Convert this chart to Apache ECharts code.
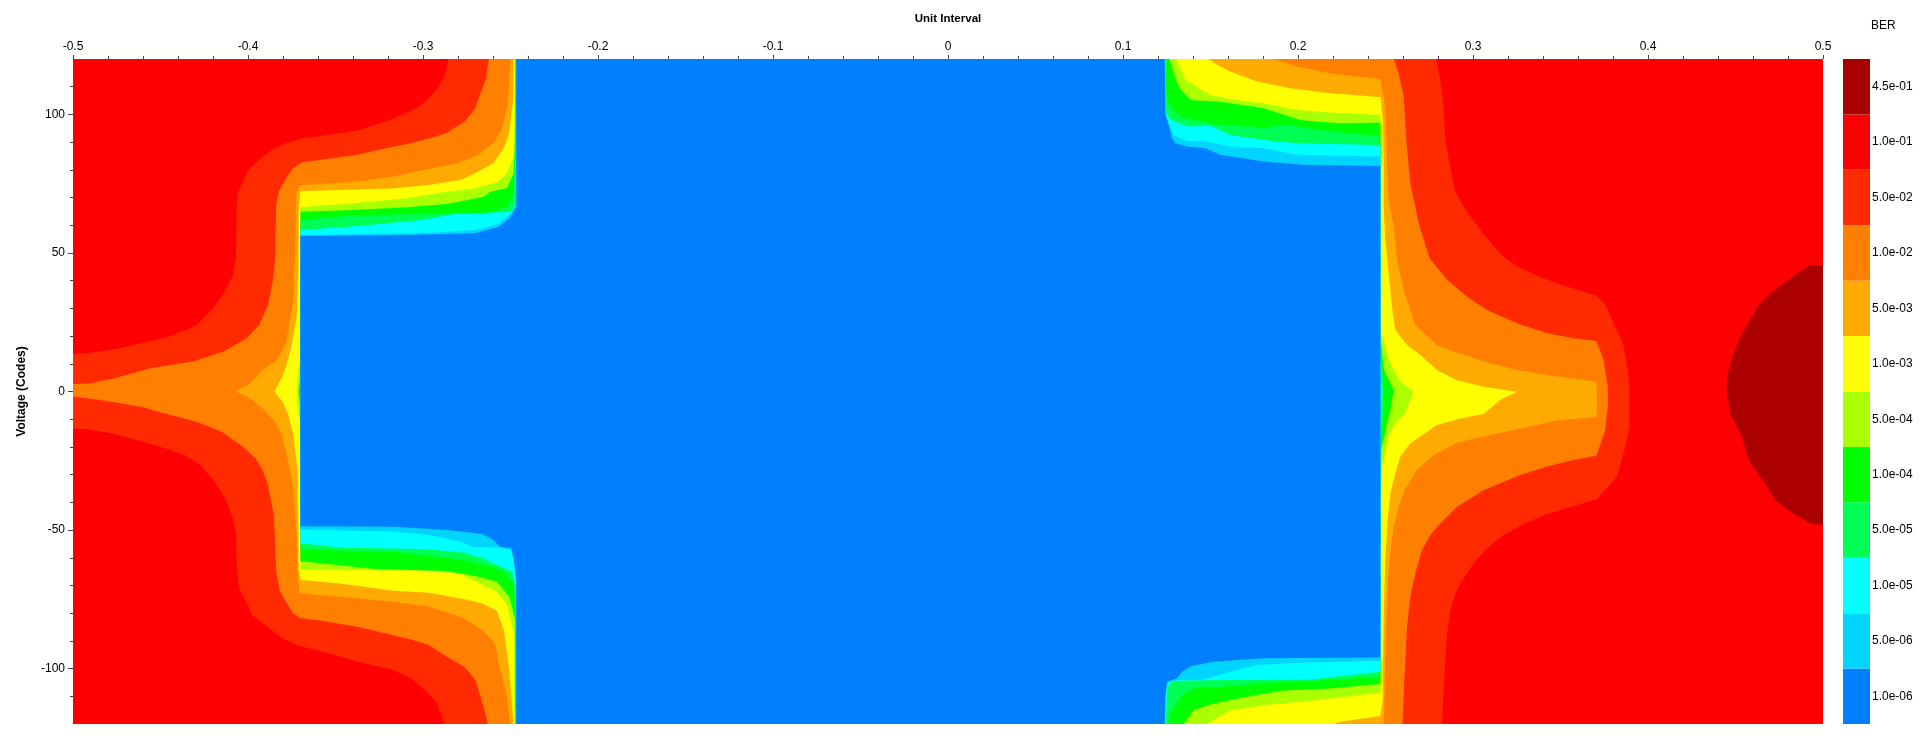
<!DOCTYPE html>
<html>
<head>
<meta charset="utf-8">
<title>BER contour</title>
<script src="https://cdn.jsdelivr.net/npm/echarts@6/dist/echarts.min.js"></script>
<style>html,body{margin:0;padding:0;background:#fff}#chart{width:1926px;height:738px}</style>
</head>
<body>
<div id="chart"></div>
<script>
// Axis values
const xRange = [-0.5, 0.5];
const yRange = [-120, 120];
const yLabelTicks = [-100, -50, 0, 50, 100];
const yMinorTicks = [-110, -90, -80, -70, -60, -40, -30, -20, -10, 10, 20, 30, 40, 60, 70, 80, 90, 110];
// Legend (bottom to top)
const berLabels = ['1.0e-06','5.0e-06','1.0e-05','5.0e-05','1.0e-04','5.0e-04','1.0e-03','5.0e-03','1.0e-02','5.0e-02','1.0e-01','4.5e-01'];
const berColors = ['#0080ff','#00d5ff','#00ffff','#00ff55','#00ff00','#aaff00','#ffff00','#ffaa00','#ff8000','#ff2a00','#ff0000','#aa0000'];

// Contour traces, [unit interval, voltage code]
const peak45 = [[0.5,45.6],[0.4928,45.6],[0.4851,42.6],[0.4775,39],[0.4699,35.4],[0.4632,31.2],[0.4585,25.8],[0.4528,19.8],[0.4489,13.7],[0.4461,7.7],[0.4448,0.5],[0.447,-7.9],[0.4537,-16.3],[0.4575,-24.7],[0.4661,-32.6],[0.4728,-39.2],[0.4813,-43.4],[0.4928,-47.6],[0.5,-48.2]];

const left5e2 = [[-0.2854,120],[-0.2875,114.3],[-0.2916,109.4],[-0.2977,105.2],[-0.3038,102.2],[-0.315,99],[-0.3252,96.6],[-0.3375,94.2],[-0.3538,92.6],[-0.3691,91.4],[-0.3783,89.6],[-0.3854,87.5],[-0.3916,84.8],[-0.3997,80],[-0.4028,75.8],[-0.4058,71.5],[-0.4064,66.7],[-0.4069,48.7],[-0.4089,41.5],[-0.414,35.4],[-0.4201,30],[-0.4293,24],[-0.4354,22.2],[-0.4456,19.8],[-0.4599,17.6],[-0.4783,15],[-0.4926,13.8],[-0.5,13.5],[-0.5,-13.5],[-0.4926,-13.5],[-0.4783,-15.1],[-0.4599,-18.1],[-0.4456,-20.8],[-0.4354,-23.3],[-0.4273,-26.5],[-0.4191,-32.6],[-0.413,-38.6],[-0.4089,-45.2],[-0.4069,-51.2],[-0.4064,-63.2],[-0.4048,-71.7],[-0.4007,-76.5],[-0.3977,-80.7],[-0.3926,-83.1],[-0.3803,-89.1],[-0.3701,-91.9],[-0.3538,-94.5],[-0.3375,-97.5],[-0.3171,-100.5],[-0.3069,-103.6],[-0.2987,-107.8],[-0.2926,-112],[-0.2895,-116.8],[-0.2875,-120]];
const right5e2 = [[0.2789,120],[0.2813,112.5],[0.2832,102.8],[0.2842,90.8],[0.288,77.6],[0.2899,72.1],[0.2966,64.9],[0.3042,58.3],[0.3118,52.3],[0.3185,48.1],[0.3271,44.5],[0.3385,41.2],[0.3537,37.9],[0.3709,34.5],[0.3756,31.2],[0.3804,24.6],[0.3857,17.4],[0.3884,7.8],[0.3895,0],[0.3895,-12.7],[0.387,-19.9],[0.3823,-30.7],[0.3709,-38.9],[0.3575,-41.3],[0.3423,-44.2],[0.329,-47.8],[0.3175,-51.8],[0.308,-56.6],[0.3004,-62],[0.2928,-69.3],[0.2899,-72.9],[0.2871,-78.9],[0.2852,-87.3],[0.2842,-96.9],[0.2832,-109],[0.2823,-120]];

const left1e2 = [[-0.2624,120],[-0.264,113],[-0.2671,107.6],[-0.2701,102.2],[-0.2762,97.4],[-0.2864,93.4],[-0.2926,92],[-0.3069,89.6],[-0.3211,87.8],[-0.3375,85.4],[-0.3579,83.6],[-0.3691,82.7],[-0.3742,80.6],[-0.3783,77],[-0.3824,72.1],[-0.384,66.7],[-0.3844,48.7],[-0.3854,41.5],[-0.3885,31.2],[-0.3936,24],[-0.4007,19.2],[-0.414,14.4],[-0.4313,10.8],[-0.4558,8.4],[-0.4762,4.8],[-0.4905,2.9],[-0.5,2.7],[-0.5,-1.9],[-0.4905,-2.5],[-0.4762,-3.9],[-0.4599,-5.7],[-0.4477,-7.9],[-0.4293,-10.9],[-0.415,-14.5],[-0.4028,-19.9],[-0.3957,-24.1],[-0.3916,-28.3],[-0.3885,-33.8],[-0.3854,-44],[-0.3844,-54.8],[-0.384,-64.4],[-0.382,-71.7],[-0.3783,-75.9],[-0.3742,-80.1],[-0.3701,-81.7],[-0.3579,-82.7],[-0.3375,-84.9],[-0.3211,-87.3],[-0.3069,-89.5],[-0.2967,-91.5],[-0.2864,-95.7],[-0.2762,-99.4],[-0.2701,-104.1],[-0.2671,-110.2],[-0.264,-117.4],[-0.263,-120]];
const right1e2 = [[0.2547,120],[0.2575,114.9],[0.2604,106.4],[0.2619,90.8],[0.2642,75.2],[0.269,60.7],[0.2752,48.1],[0.2852,40.3],[0.2966,34.2],[0.308,29.4],[0.3252,24.6],[0.3423,21],[0.3575,19.2],[0.3705,18.2],[0.3747,11.4],[0.377,1.7],[0.377,-5.5],[0.3756,-13.9],[0.3705,-23.2],[0.3575,-24.7],[0.3423,-27.1],[0.327,-30.1],[0.3061,-35.6],[0.2909,-41.6],[0.2813,-47.6],[0.2756,-51.8],[0.2709,-57.2],[0.2671,-65.6],[0.2642,-74.1],[0.2623,-84.9],[0.2613,-96.9],[0.2604,-109],[0.2598,-120]];

const left5e3 = [[-0.2501,120],[-0.2507,111.3],[-0.2518,102.8],[-0.2548,95],[-0.2589,90.2],[-0.2681,85.4],[-0.2803,82.4],[-0.2987,80],[-0.3171,77.6],[-0.3375,75.8],[-0.3701,74.4],[-0.3722,72.1],[-0.3726,66.7],[-0.3732,48.7],[-0.3742,33],[-0.3783,17.4],[-0.3834,11.4],[-0.3916,7.8],[-0.3987,2.9],[-0.4069,0],[-0.3987,-2.5],[-0.3916,-6.1],[-0.3844,-10.9],[-0.3803,-16.3],[-0.3772,-24.7],[-0.3742,-34.4],[-0.3722,-52.4],[-0.3717,-65.6],[-0.3705,-72.9],[-0.3579,-73.5],[-0.3375,-74.7],[-0.3171,-75.9],[-0.2967,-77.7],[-0.2783,-81.3],[-0.266,-86.1],[-0.2589,-90.9],[-0.2558,-100.5],[-0.2518,-110.2],[-0.2503,-120]];
const right5e3 = [[0.1861,120],[0.1994,117.3],[0.2185,114.9],[0.2375,113.4],[0.2471,112.7],[0.2499,102.8],[0.2509,81.2],[0.2518,69.1],[0.2547,59.5],[0.2566,47.5],[0.2604,36.6],[0.267,24],[0.2794,16.8],[0.289,14.4],[0.3061,10.8],[0.3252,7.8],[0.348,5.4],[0.3705,3.5],[0.3709,-4.3],[0.3705,-9.1],[0.348,-10.5],[0.3309,-12.9],[0.3099,-15.7],[0.2909,-18.5],[0.2775,-23],[0.268,-28.3],[0.2613,-35],[0.2575,-41.6],[0.2547,-48.8],[0.2528,-58.4],[0.2512,-69.3],[0.2505,-81.3],[0.2499,-93.3],[0.2495,-106.6],[0.249,-120]];

const left1e3 = [[-0.2481,120],[-0.2485,105.2],[-0.2507,93.2],[-0.2538,87.8],[-0.2599,82.4],[-0.2681,79.4],[-0.2783,76.4],[-0.2967,74.5],[-0.3171,73.3],[-0.3477,72.7],[-0.3701,72.3],[-0.3709,66.7],[-0.3711,45],[-0.3722,27],[-0.3752,16.2],[-0.3783,9],[-0.3803,5.4],[-0.3848,0],[-0.3803,-3.7],[-0.3772,-7.9],[-0.3742,-15.1],[-0.3717,-28.3],[-0.3711,-52.4],[-0.3711,-64.4],[-0.3697,-68],[-0.3477,-69.3],[-0.3272,-71],[-0.3171,-71.9],[-0.2967,-72.6],[-0.2783,-74.7],[-0.266,-76.5],[-0.2579,-79],[-0.2538,-86.1],[-0.2507,-100.5],[-0.2483,-120]];
const right1e3 = [[0.149,120],[0.1537,117.9],[0.1613,115.5],[0.1766,111.9],[0.1956,109.4],[0.2185,107.6],[0.2375,106.7],[0.2471,106.2],[0.2474,105],[0.2486,96.8],[0.249,81.2],[0.249,66.7],[0.2499,54.7],[0.2518,42.7],[0.2537,30.6],[0.2556,22.2],[0.2623,16.8],[0.2699,13.2],[0.2794,7.8],[0.2909,4.1],[0.3061,1.7],[0.3252,-0.1],[0.3156,-3],[0.3061,-8.1],[0.2928,-9.7],[0.2794,-12.1],[0.2642,-18.7],[0.2585,-23.5],[0.2556,-29.5],[0.2528,-36.8],[0.2512,-46.4],[0.2499,-60.8],[0.249,-81.3],[0.2486,-99.3],[0.2484,-111.3],[0.2471,-117.1],[0.2242,-119.2],[0.2204,-120]];

const left5e4 = [[-0.2475,120],[-0.2477,99.2],[-0.2482,84.8],[-0.252,78.8],[-0.2577,75.4],[-0.2711,73.2],[-0.2863,72.1],[-0.3091,69.7],[-0.3397,67.9],[-0.3701,66.5],[-0.3701,12],[-0.372,4],[-0.3722,0],[-0.372,-4],[-0.3701,-12],[-0.3701,-64.4],[-0.2967,-64.6],[-0.2783,-65.9],[-0.267,-69.5],[-0.2579,-72.3],[-0.2518,-77.1],[-0.2483,-87.3],[-0.2477,-120]];
const right5e4 = [[0.1303,120],[0.1356,112.5],[0.1499,107],[0.1613,105.5],[0.1804,104],[0.1994,101.6],[0.2185,100.7],[0.2471,99.8],[0.2471,22],[0.248,19.8],[0.2528,10.2],[0.2585,3.5],[0.2661,-0.1],[0.2632,-4.3],[0.2613,-7.9],[0.2556,-11.5],[0.2518,-16.3],[0.248,-27.1],[0.2471,-40],[0.2471,-108.7],[0.228,-110.2],[0.2071,-111.6],[0.1804,-113.2],[0.1613,-115],[0.148,-120]];

const left1e4 = [[-0.2473,120],[-0.2473,93.2],[-0.2482,78.8],[-0.252,73.4],[-0.2616,72.1],[-0.2654,70.3],[-0.2863,67.7],[-0.3091,66.5],[-0.3397,65.5],[-0.3701,64.9],[-0.3701,5],[-0.3711,0],[-0.3701,-5],[-0.3701,-61.2],[-0.3272,-64.1],[-0.2864,-64.8],[-0.2701,-66.6],[-0.2579,-68.6],[-0.2507,-74.1],[-0.2473,-82.5],[-0.2473,-120]];
const right1e4 = [[0.1267,120],[0.129,114.9],[0.1318,110],[0.1385,105.2],[0.1556,104.6],[0.1804,102.2],[0.2013,98],[0.2223,96.8],[0.2471,97],[0.2471,20],[0.249,8],[0.2547,0.5],[0.2528,-6.7],[0.2509,-11.5],[0.2476,-21],[0.2471,-40],[0.2471,-105.6],[0.2185,-107.2],[0.1899,-108],[0.1709,-110.2],[0.1518,-112.6],[0.1404,-115],[0.1347,-120]];

const left5e5 = [[-0.2471,120],[-0.2471,93],[-0.2483,72.1],[-0.2518,66.7],[-0.262,64.6],[-0.2967,64.1],[-0.3375,63.7],[-0.3701,61.9],[-0.3701,-57],[-0.3171,-57.8],[-0.2762,-60.8],[-0.262,-63.2],[-0.2538,-65],[-0.2487,-69.3],[-0.247,-76.5],[-0.247,-120]];
const right5e5 = [[0.1246,120],[0.1246,106.4],[0.1271,102.8],[0.1328,99.2],[0.1499,96.8],[0.1613,95.9],[0.1804,95.4],[0.1937,96.2],[0.2185,93.8],[0.2471,92.2],[0.2471,12],[0.249,3],[0.2495,0],[0.249,-5],[0.2473,-15],[0.2471,-102.9],[0.2185,-104.1],[0.1842,-105.1],[0.1556,-106.6],[0.1404,-107.2],[0.1328,-110.2],[0.128,-115],[0.1255,-120]];

const left1e5 = [[-0.247,120],[-0.247,93],[-0.2473,67.9],[-0.2497,64.8],[-0.2824,64.1],[-0.3007,61.9],[-0.3375,59.7],[-0.3701,58.3],[-0.3701,-54.8],[-0.3477,-56.3],[-0.2967,-56.9],[-0.2762,-58.2],[-0.266,-60.2],[-0.2558,-63.2],[-0.2493,-65],[-0.247,-70.4],[-0.2469,-120]];
const right1e5 = [[0.1242,120],[0.1242,101],[0.1271,98],[0.1375,95.6],[0.1499,95.9],[0.1613,92.6],[0.1804,90.8],[0.1994,89.6],[0.2471,89],[0.2471,5],[0.2482,0],[0.2471,-5],[0.2471,-101.1],[0.2071,-103.9],[0.1804,-104.1],[0.1575,-104.1],[0.1328,-104.4],[0.128,-104.7],[0.1255,-106.5],[0.1242,-120]];

const left5e6 = [[-0.2469,120],[-0.2469,90],[-0.2473,67.3],[-0.2497,64.3],[-0.2569,60.5],[-0.2701,58.3],[-0.2967,57.3],[-0.3171,57.1],[-0.3701,56.5],[-0.3701,-49.8],[-0.3171,-50.6],[-0.2967,-51.8],[-0.2783,-54.2],[-0.2722,-56],[-0.2558,-56.4],[-0.2497,-57.2],[-0.2483,-60.8],[-0.2469,-68],[-0.2469,-120]];
const right5e6 = [[0.124,120],[0.1242,99.8],[0.1261,96.8],[0.129,92.6],[0.1366,90.4],[0.1471,90.2],[0.1613,88.4],[0.1804,87.8],[0.1994,85.4],[0.2471,84.8],[0.2471,-97.2],[0.1994,-97.9],[0.1766,-98.7],[0.1613,-101.1],[0.1452,-104.1],[0.1309,-104.1],[0.1255,-105.1],[0.1242,-110.2],[0.124,-120]];

const left1e6 = [[-0.2467,120],[-0.2467,66.7],[-0.2507,62.5],[-0.2569,59.5],[-0.2701,57.1],[-0.3171,56.4],[-0.3701,56.1],[-0.3701,-48.6],[-0.3171,-48.8],[-0.2864,-50],[-0.266,-51.4],[-0.2599,-53.6],[-0.2558,-56],[-0.2497,-56.6],[-0.2483,-59.6],[-0.2467,-68],[-0.2467,-120]];
const right1e6 = [[0.1238,120],[0.1242,100.4],[0.1261,96.2],[0.128,91.4],[0.1299,89.6],[0.1366,88.4],[0.1471,87.8],[0.1556,85.4],[0.1804,83],[0.2033,81.8],[0.2471,81.4],[0.2471,-96],[0.1804,-96.3],[0.1518,-97.5],[0.1394,-99.1],[0.1337,-101.1],[0.1309,-103.5],[0.1252,-104.7],[0.1242,-110.2],[0.1238,-120]];

const closeBand = (left, right) => left.concat(right.slice().reverse());
const plotCorners = [[xRange[0], yRange[1]], [xRange[1], yRange[1]], [xRange[1], yRange[0]], [xRange[0], yRange[0]]];

// Painted back to front, each region nested in the one before it
const bandNames = ['1.0e-01','4.5e-01','5.0e-02','1.0e-02','5.0e-03','1.0e-03','5.0e-04','1.0e-04','5.0e-05','1.0e-05','5.0e-06','1.0e-06'];
const bandShapes = [plotCorners, peak45, closeBand(left5e2,right5e2), closeBand(left1e2,right1e2), closeBand(left5e3,right5e3), closeBand(left1e3,right1e3), closeBand(left5e4,right5e4), closeBand(left1e4,right1e4), closeBand(left5e5,right5e5), closeBand(left1e5,right1e5), closeBand(left5e6,right5e6), closeBand(left1e6,right1e6)];

const bandSeries = bandNames.map((name, i) => ({
  name, type: 'custom', coordinateSystem: 'cartesian2d', xAxisIndex: 0, yAxisIndex: 0,
  silent: true, animation: false, clip: true,
  data: bandShapes[i],
  encode: { x: 0, y: 1 },
  renderItem: (params, api) => {
    if (params.dataIndex !== 0) return null;
    return {
      type: 'polygon',
      shape: { points: bandShapes[i].map(p => api.coord(p)) },
      style: { fill: berColors[berLabels.indexOf(name)] }
    };
  }
}));

const labelStyle = { fontFamily: '"Liberation Sans", Arial, sans-serif', fontSize: 12, color: '#000' };
const nameStyle = { fontFamily: '"Liberation Sans", Arial, sans-serif', fontWeight: 'bold', color: '#000' };
const tickLine = { color: '#444', width: 1 };
const hiddenLine = { show: false, onZero: false };

const chart = echarts.init(document.getElementById('chart'), null, { renderer: 'canvas' });
chart.setOption({
  animation: false,
  backgroundColor: '#fff',
  title: { text: 'BER', left: 1871, top: 19.5, padding: 0,
    textStyle: Object.assign({}, labelStyle, { fontWeight: 'normal' }) },
  grid: [
    { left: 73, width: 1750, top: 59, height: 665 },
    { left: 1843, width: 27, top: 59, height: 665 }
  ],
  xAxis: [
    { gridIndex: 0, type: 'value', position: 'top', min: xRange[0], max: xRange[1], interval: 0.1,
      name: 'Unit Interval', nameLocation: 'middle', nameGap: 34.5,
      nameTextStyle: Object.assign({ fontSize: 11.5 }, nameStyle),
      axisLine: hiddenLine, splitLine: { show: false },
      axisTick: { show: true, length: 4, lineStyle: tickLine },
      minorTick: { show: true, splitNumber: 5, length: 3, lineStyle: tickLine },
      axisLabel: Object.assign({ margin: 6 }, labelStyle) },
    { gridIndex: 1, type: 'value', min: 0, max: 1, show: false }
  ],
  yAxis: [
    { gridIndex: 0, type: 'value', position: 'left', min: yRange[0], max: yRange[1],
      name: 'Voltage (Codes)', nameLocation: 'middle', nameGap: 45, nameRotate: 90,
      nameTextStyle: Object.assign({ fontSize: 12 }, nameStyle),
      axisLine: hiddenLine, splitLine: { show: false },
      axisTick: { show: true, length: 5, lineStyle: tickLine, customValues: yLabelTicks },
      axisLabel: Object.assign({ margin: 8, padding: [4, 0, 0, 0], customValues: yLabelTicks }, labelStyle) },
    { gridIndex: 0, type: 'value', position: 'left', min: yRange[0], max: yRange[1],
      axisLine: hiddenLine, splitLine: { show: false },
      axisTick: { show: true, length: 3, lineStyle: tickLine, customValues: yMinorTicks },
      axisLabel: { show: false } },
    { gridIndex: 1, type: 'category', position: 'right', data: berLabels,
      axisLine: hiddenLine, axisTick: { show: false }, splitLine: { show: false },
      axisLabel: Object.assign({ margin: 2, padding: [3, 0, 0, 0] }, labelStyle) }
  ],
  series: bandSeries.concat([{
    name: 'BER scale', type: 'bar', xAxisIndex: 1, yAxisIndex: 2, barWidth: '100%', silent: true, animation: false,
    data: berLabels.map((l, i) => ({ value: 1, itemStyle: { color: berColors[i] } }))
  }])
});
</script>
</body>
</html>
